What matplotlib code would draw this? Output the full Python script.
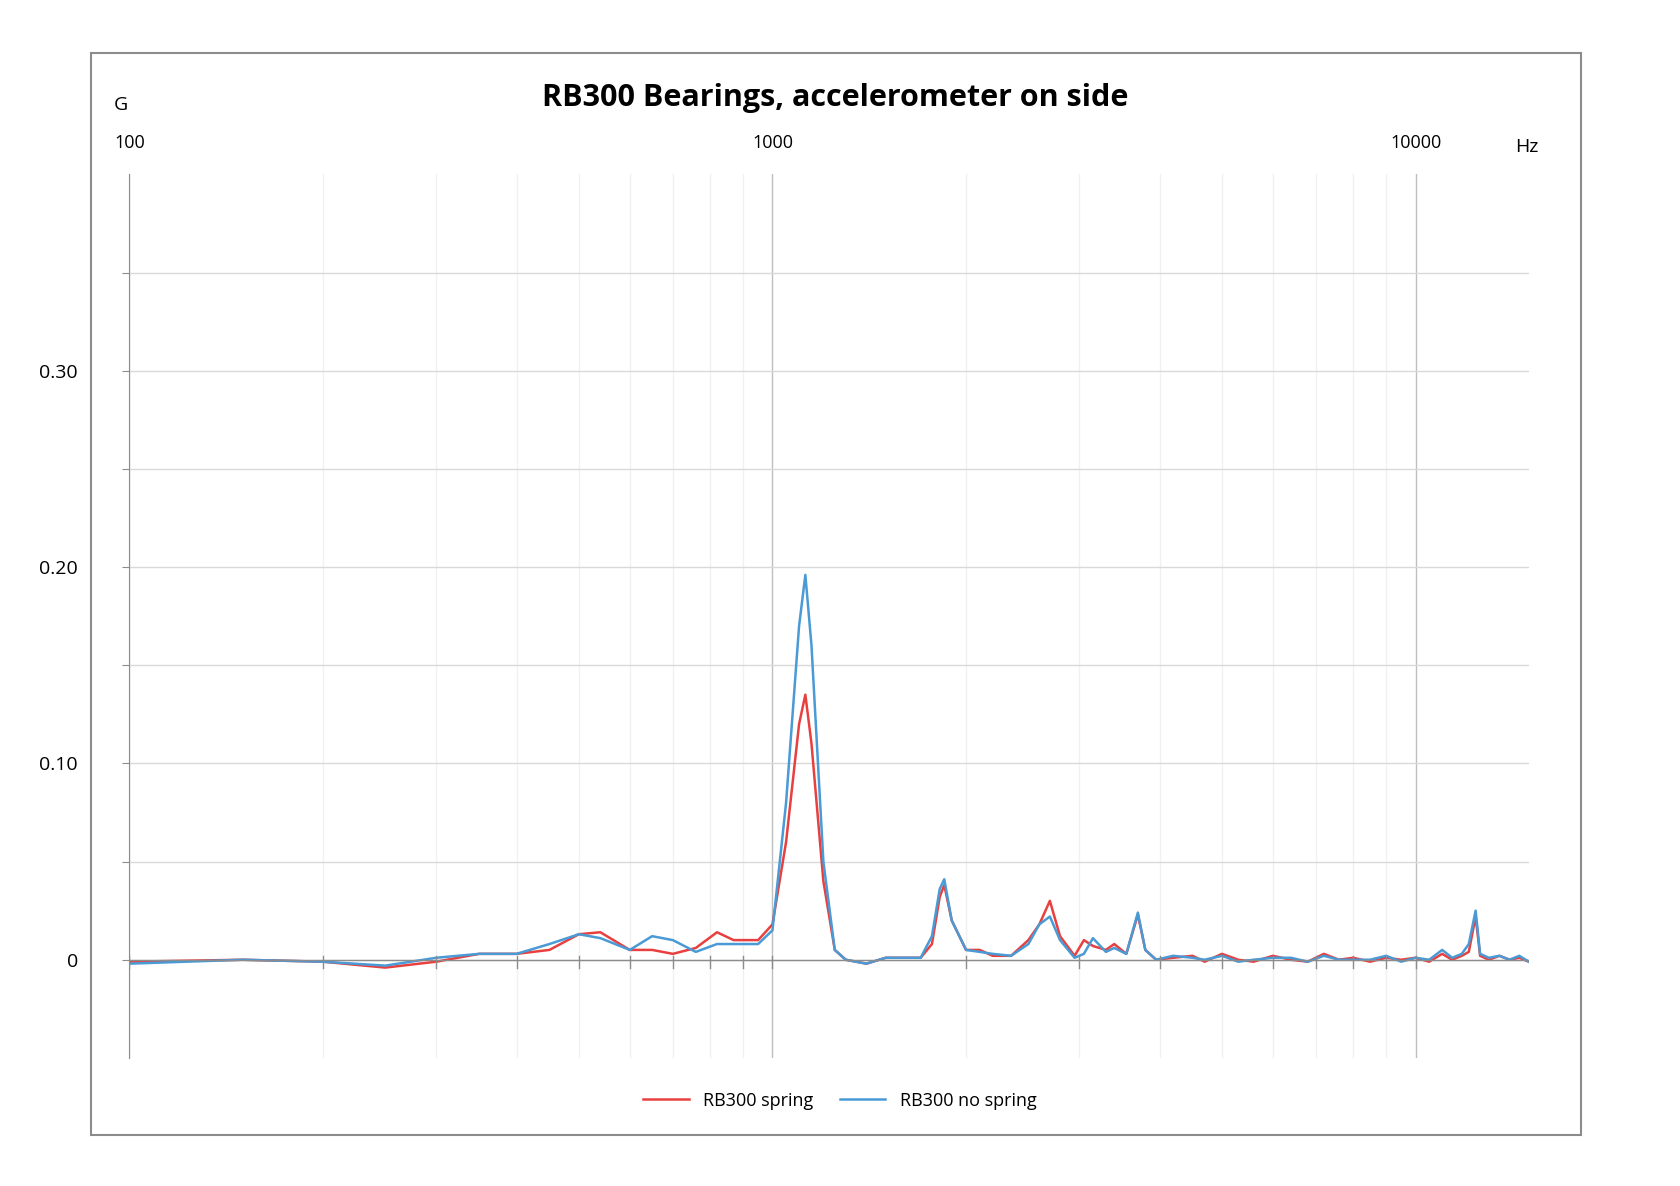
import matplotlib
matplotlib.use("Agg")
import matplotlib.pyplot as plt
from matplotlib.patches import Rectangle
from matplotlib.ticker import NullFormatter

plt.rcParams["font.family"] = ["Open Sans", "DejaVu Sans"]

freq = [100, 150, 200, 250, 300, 350, 400, 450, 500, 540, 600, 650, 700, 760,
        820, 870, 950, 1000, 1050, 1100, 1125, 1150, 1200, 1250, 1300, 1400,
        1500, 1700, 1770, 1820, 1850, 1900, 2000, 2100, 2200, 2350, 2500, 2600,
        2700, 2800, 2950, 3050, 3150, 3300, 3400, 3550, 3700, 3800, 3950,
        4200, 4500, 4700, 5000, 5300, 5600, 6000, 6400, 6800, 7200, 7600,
        8000, 8500, 9000, 9500, 10000, 10500, 11000, 11400, 11800, 12100,
        12400, 12600, 13000, 13500, 14000, 14500, 15000]
spring = [-0.001, 0.0, -0.001, -0.004, -0.001, 0.003, 0.003, 0.005, 0.013, 0.014,
          0.005, 0.005, 0.003, 0.006, 0.014, 0.010, 0.010, 0.018, 0.06, 0.12,
          0.135, 0.11, 0.04, 0.005, 0.0, -0.002, 0.001, 0.001, 0.008, 0.032,
          0.038, 0.02, 0.005, 0.005, 0.002, 0.002, 0.010, 0.018, 0.030, 0.012,
          0.002, 0.010, 0.007, 0.005, 0.008, 0.003, 0.023, 0.005, 0.0,
          0.001, 0.002, -0.001, 0.003, 0.0, -0.001, 0.002, 0.0, -0.001, 0.003,
          0.0, 0.001, -0.001, 0.001, 0.0, 0.001, -0.001, 0.003, 0.0, 0.002,
          0.004, 0.022, 0.002, 0.0, 0.002, 0.0, 0.001, -0.001]
no_spring = [-0.002, 0.0, -0.001, -0.003, 0.001, 0.003, 0.003, 0.008, 0.013, 0.011,
             0.005, 0.012, 0.010, 0.004, 0.008, 0.008, 0.008, 0.015, 0.08, 0.17,
             0.196, 0.16, 0.05, 0.005, 0.0, -0.002, 0.001, 0.001, 0.012, 0.036,
             0.041, 0.02, 0.005, 0.004, 0.003, 0.002, 0.008, 0.018, 0.022, 0.010,
             0.001, 0.003, 0.011, 0.004, 0.006, 0.003, 0.024, 0.005, 0.0,
             0.002, 0.001, 0.0, 0.002, -0.001, 0.0, 0.001, 0.001, -0.001, 0.002,
             0.0, 0.0, 0.0, 0.002, -0.001, 0.001, 0.0, 0.005, 0.001, 0.003,
             0.008, 0.025, 0.003, 0.001, 0.002, 0.0, 0.002, -0.001]

fig = plt.figure(figsize=(16.8, 11.86), dpi=100)
fig.patches.append(Rectangle((0.054, 0.043), 0.887, 0.912, transform=fig.transFigure,
                             fill=False, edgecolor="#8c8c8c", lw=1.5))
ax = fig.add_axes([0.077, 0.108, 0.833, 0.745])
ax.plot(freq, spring, color="#e8403f", lw=1.8, label="RB300 spring")
ax.plot(freq, no_spring, color="#4a9ad6", lw=1.8, label="RB300 no spring")

ax.set_xscale("log")
ax.set_xlim(100, 15000)
ax.set_ylim(-0.05, 0.40)
ax.set_yticks([0, 0.05, 0.10, 0.15, 0.20, 0.25, 0.30, 0.35])
ax.set_yticklabels(["0", "", "0.10", "", "0.20", "", "0.30", ""], fontsize=14)
ax.tick_params(axis="y", length=5, color="#8c8c8c", pad=32)
ax.grid(True, axis="y", color="#d9d9d9", lw=1)
ax.grid(True, axis="x", which="major", color="#bfbfbf", lw=1)
ax.grid(True, axis="x", which="minor", color="#f0f0f0", lw=1)
ax.xaxis.tick_top()
ax.set_xticks([100, 1000, 10000])
ax.set_xticklabels(["100", "1000", "10000"], fontsize=13)
ax.xaxis.set_minor_formatter(NullFormatter())
ax.tick_params(axis="x", which="both", length=0, pad=16)
for s in ["top", "right", "bottom"]:
    ax.spines[s].set_visible(False)
ax.spines["left"].set_color("#8c8c8c")
ax.axhline(0, color="#8c8c8c", lw=1)
for x in [f * d for d in (100, 1000, 10000) for f in range(1, 10) if f * d <= 15000]:
    ax.plot([x, x], [0.002, -0.004], color="#8c8c8c", lw=1)

fig.text(0.497, 0.911, "RB300 Bearings, accelerometer on side", ha="center",
         fontsize=22, fontweight="bold")
fig.text(0.072, 0.907, "G", fontsize=14, ha="center")
fig.text(0.909, 0.872, "Hz", fontsize=14, ha="center")
fig.legend(loc="center", bbox_to_anchor=(0.5, 0.072), ncol=2, frameon=False,
           fontsize=13, handlelength=2.5, columnspacing=1.5)
fig.savefig("out.png", dpi=100, facecolor="white")
